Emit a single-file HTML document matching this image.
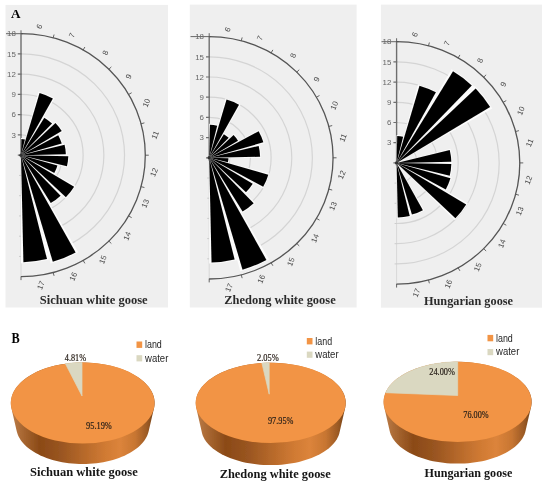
<!DOCTYPE html>
<html><head><meta charset="utf-8"><title>Figure</title>
<style>
html,body{margin:0;padding:0;background:#fff;}
body{width:550px;height:490px;overflow:hidden;}
svg{display:block;font-family:"Liberation Sans",sans-serif;}
.cap{font-family:"Liberation Serif",serif;font-weight:bold;fill:#2c2c2c;}
.pl{font-family:"Liberation Serif",serif;fill:#2a211a;stroke:#2a211a;stroke-width:0.2px;}
.lg{font-family:"Liberation Sans",sans-serif;fill:#262626;}
</style></head><body>
<svg width="550" height="490" viewBox="0 0 550 490">
<defs>
<filter id="soft" x="0" y="0" width="550" height="490" filterUnits="userSpaceOnUse"><feGaussianBlur stdDeviation="0.4"/></filter>
<clipPath id="c1"><rect x="5.5" y="4.9" width="162.5" height="302.6"/></clipPath>
<clipPath id="c2"><rect x="189.8" y="4.6" width="166.8" height="302.9"/></clipPath>
<clipPath id="c3"><rect x="380.9" y="4.6" width="161.1" height="303.1"/></clipPath>
</defs>
<rect width="550" height="490" fill="#fff"/>
<g filter="url(#soft)">
<rect x="5.5" y="4.9" width="162.5" height="302.6" fill="#efefef"/>
<rect x="189.8" y="4.6" width="166.8" height="302.9" fill="#efefef"/>
<rect x="380.9" y="4.6" width="161.1" height="303.1" fill="#efefef"/>

<g clip-path="url(#c1)"><path d="M21.00 134.95A20.72 20.25 0 0 1 21.00 175.45" fill="none" stroke="#d4d4d4" stroke-width="1.2"/>
<path d="M21.00 114.70A41.43 40.50 0 0 1 21.00 195.70" fill="none" stroke="#d4d4d4" stroke-width="1.2"/>
<path d="M21.00 94.45A62.15 60.75 0 0 1 21.00 215.95" fill="none" stroke="#d4d4d4" stroke-width="1.2"/>
<path d="M21.00 74.20A82.86 81.00 0 0 1 21.00 236.20" fill="none" stroke="#d4d4d4" stroke-width="1.2"/>
<path d="M21.00 53.95A103.58 101.25 0 0 1 21.00 256.45" fill="none" stroke="#d4d4d4" stroke-width="1.2"/>
<line x1="21" y1="33.70" x2="21" y2="158.20" stroke="#6e6e6e" stroke-width="1.4"/>
<line x1="21" y1="155.20" x2="21" y2="276.70" stroke="#d0d0d0" stroke-width="0.8"/>
<line x1="17.8" y1="155.20" x2="21.5" y2="155.20" stroke="#6e6e6e" stroke-width="1.2"/>
<line x1="17.8" y1="134.95" x2="21.5" y2="134.95" stroke="#6e6e6e" stroke-width="1.2"/>
<text x="15.8" y="137.65" text-anchor="end" font-size="7.9" fill="#666">3</text>
<line x1="17.8" y1="114.70" x2="21.5" y2="114.70" stroke="#6e6e6e" stroke-width="1.2"/>
<text x="15.8" y="117.40" text-anchor="end" font-size="7.9" fill="#666">6</text>
<line x1="17.8" y1="94.45" x2="21.5" y2="94.45" stroke="#6e6e6e" stroke-width="1.2"/>
<text x="15.8" y="97.15" text-anchor="end" font-size="7.9" fill="#666">9</text>
<line x1="17.8" y1="74.20" x2="21.5" y2="74.20" stroke="#6e6e6e" stroke-width="1.2"/>
<text x="15.8" y="76.90" text-anchor="end" font-size="7.9" fill="#666">12</text>
<line x1="17.8" y1="53.95" x2="21.5" y2="53.95" stroke="#6e6e6e" stroke-width="1.2"/>
<text x="15.8" y="56.65" text-anchor="end" font-size="7.9" fill="#666">15</text>
<line x1="6.0" y1="33.70" x2="23" y2="33.70" stroke="#666" stroke-width="1"/>
<text x="15.8" y="36.40" text-anchor="end" font-size="7.9" fill="#666">18</text>
<line x1="19" y1="175.45" x2="21" y2="175.45" stroke="#c4c4c4" stroke-width="0.8"/>
<line x1="19" y1="195.70" x2="21" y2="195.70" stroke="#c4c4c4" stroke-width="0.8"/>
<line x1="19" y1="215.95" x2="21" y2="215.95" stroke="#c4c4c4" stroke-width="0.8"/>
<line x1="19" y1="236.20" x2="21" y2="236.20" stroke="#c4c4c4" stroke-width="0.8"/>
<line x1="19" y1="256.45" x2="21" y2="256.45" stroke="#c4c4c4" stroke-width="0.8"/>
<path d="M21 155.2L21.00 138.00A17.60 17.20 0 0 1 25.55 138.59Z" fill="#fcfcfc"/>
<path d="M21 155.2L38.42 91.64A67.31 65.80 0 0 1 54.66 98.22Z" fill="#fcfcfc"/>
<path d="M21 155.2L43.95 116.34A45.91 44.88 0 0 1 53.46 123.47Z" fill="#fcfcfc"/>
<path d="M21 155.2L55.41 121.56A48.67 47.57 0 0 1 63.15 131.41Z" fill="#fcfcfc"/>
<path d="M21 155.2L58.66 133.94A43.49 42.51 0 0 1 63.01 144.20Z" fill="#fcfcfc"/>
<path d="M21 155.2L65.34 143.59A45.91 44.88 0 0 1 66.91 155.20Z" fill="#fcfcfc"/>
<path d="M21 155.2L69.32 155.20A48.32 47.24 0 0 1 67.68 167.43Z" fill="#fcfcfc"/>
<path d="M21 155.2L58.67 165.07A39.00 38.12 0 0 1 54.78 174.26Z" fill="#fcfcfc"/>
<path d="M21 155.2L75.71 186.07A63.17 61.75 0 0 1 65.67 198.86Z" fill="#fcfcfc"/>
<path d="M21 155.2L62.25 195.52A58.34 57.03 0 0 1 50.17 204.59Z" fill="#fcfcfc"/>
<path d="M21 155.2L78.31 252.23A114.61 112.04 0 0 1 50.66 263.42Z" fill="#fcfcfc"/>
<path d="M21 155.2L49.59 259.51A110.47 107.99 0 0 1 21.00 263.19Z" fill="#fcfcfc"/>
<path d="M21 155.2L21.36 139.00A16.57 16.20 0 0 1 24.94 139.46Z" fill="#050505"/>
<path d="M21 155.2L39.55 92.99A66.29 64.80 0 0 1 52.88 98.39Z" fill="#050505"/>
<path d="M21 155.2L44.28 117.69A44.88 43.88 0 0 1 52.04 123.51Z" fill="#050505"/>
<path d="M21 155.2L55.42 122.99A47.65 46.57 0 0 1 61.73 131.04Z" fill="#050505"/>
<path d="M21 155.2L58.23 135.23A42.47 41.51 0 0 1 61.77 143.58Z" fill="#050505"/>
<path d="M21 155.2L64.60 144.77A44.88 43.88 0 0 1 65.87 154.24Z" fill="#050505"/>
<path d="M21 155.2L68.29 156.21A47.30 46.24 0 0 1 66.95 166.19Z" fill="#050505"/>
<path d="M21 155.2L57.46 165.59A37.98 37.12 0 0 1 54.30 173.06Z" fill="#050505"/>
<path d="M21 155.2L74.13 186.72A62.15 60.75 0 0 1 65.89 197.21Z" fill="#050505"/>
<path d="M21 155.2L60.63 195.67A57.31 56.03 0 0 1 50.73 203.10Z" fill="#050505"/>
<path d="M21 155.2L75.64 252.55A113.59 111.04 0 0 1 52.79 261.80Z" fill="#050505"/>
<path d="M21 155.2L47.01 259.12A109.45 106.99 0 0 1 23.39 262.16Z" fill="#050505"/>
<circle cx="21" cy="155.2" r="1.7" fill="#333"/>
<path d="M21.00 33.70A124.29 121.5 0 0 1 21.00 276.70" fill="none" stroke="#555" stroke-width="1.3"/>
<line x1="21.00" y1="34.00" x2="21.00" y2="30.30" stroke="#555" stroke-width="0.9"/>
<line x1="53.09" y1="38.13" x2="54.07" y2="34.56" stroke="#555" stroke-width="0.9"/>
<line x1="82.99" y1="50.24" x2="84.89" y2="47.03" stroke="#555" stroke-width="0.9"/>
<line x1="108.67" y1="69.50" x2="111.35" y2="66.88" stroke="#555" stroke-width="0.9"/>
<line x1="128.38" y1="94.60" x2="131.65" y2="92.75" stroke="#555" stroke-width="0.9"/>
<line x1="140.76" y1="123.83" x2="144.42" y2="122.87" stroke="#555" stroke-width="0.9"/>
<line x1="144.99" y1="155.20" x2="148.77" y2="155.20" stroke="#555" stroke-width="0.9"/>
<line x1="140.76" y1="186.57" x2="144.42" y2="187.53" stroke="#555" stroke-width="0.9"/>
<line x1="128.38" y1="215.80" x2="131.65" y2="217.65" stroke="#555" stroke-width="0.9"/>
<line x1="108.67" y1="240.90" x2="111.35" y2="243.52" stroke="#555" stroke-width="0.9"/>
<line x1="82.99" y1="260.16" x2="84.89" y2="263.37" stroke="#555" stroke-width="0.9"/>
<line x1="53.09" y1="272.27" x2="54.07" y2="275.84" stroke="#555" stroke-width="0.9"/>
<line x1="21.00" y1="276.40" x2="21.00" y2="280.10" stroke="#555" stroke-width="0.9"/>
<text transform="translate(39.48 26.66) rotate(-68)" text-anchor="middle" y="2.6" font-size="7.7" fill="#4a4a4a">6</text>
<text transform="translate(71.81 35.28) rotate(-68)" text-anchor="middle" y="2.6" font-size="7.7" fill="#4a4a4a">7</text>
<text transform="translate(105.29 52.72) rotate(-68)" text-anchor="middle" y="2.6" font-size="7.7" fill="#4a4a4a">8</text>
<text transform="translate(128.72 76.43) rotate(-68)" text-anchor="middle" y="2.6" font-size="7.7" fill="#4a4a4a">9</text>
<text transform="translate(146.43 102.90) rotate(-68)" text-anchor="middle" y="2.6" font-size="7.7" fill="#4a4a4a">10</text>
<text transform="translate(155.19 135.13) rotate(-68)" text-anchor="middle" y="2.6" font-size="7.7" fill="#4a4a4a">11</text>
<text transform="translate(153.97 172.31) rotate(-68)" text-anchor="middle" y="2.6" font-size="7.7" fill="#4a4a4a">12</text>
<text transform="translate(145.23 203.53) rotate(-68)" text-anchor="middle" y="2.6" font-size="7.7" fill="#4a4a4a">13</text>
<text transform="translate(127.15 235.98) rotate(-68)" text-anchor="middle" y="2.6" font-size="7.7" fill="#4a4a4a">14</text>
<text transform="translate(102.89 259.53) rotate(-68)" text-anchor="middle" y="2.6" font-size="7.7" fill="#4a4a4a">15</text>
<text transform="translate(73.21 276.61) rotate(-68)" text-anchor="middle" y="2.6" font-size="7.7" fill="#4a4a4a">16</text>
<text transform="translate(40.90 285.35) rotate(-68)" text-anchor="middle" y="2.6" font-size="7.7" fill="#4a4a4a">17</text></g>
<g clip-path="url(#c2)"><path d="M209.20 137.60A20.64 20.20 0 0 1 209.20 178.00" fill="none" stroke="#d4d4d4" stroke-width="1.2"/>
<path d="M209.20 117.40A41.29 40.40 0 0 1 209.20 198.20" fill="none" stroke="#d4d4d4" stroke-width="1.2"/>
<path d="M209.20 97.20A61.93 60.60 0 0 1 209.20 218.40" fill="none" stroke="#d4d4d4" stroke-width="1.2"/>
<path d="M209.20 77.00A82.58 80.80 0 0 1 209.20 238.60" fill="none" stroke="#d4d4d4" stroke-width="1.2"/>
<path d="M209.20 56.80A103.22 101.00 0 0 1 209.20 258.80" fill="none" stroke="#d4d4d4" stroke-width="1.2"/>
<line x1="209.2" y1="36.60" x2="209.2" y2="160.80" stroke="#6e6e6e" stroke-width="1.4"/>
<line x1="209.2" y1="157.80" x2="209.2" y2="279.00" stroke="#d0d0d0" stroke-width="0.8"/>
<line x1="206.0" y1="157.80" x2="209.7" y2="157.80" stroke="#6e6e6e" stroke-width="1.2"/>
<line x1="206.0" y1="137.60" x2="209.7" y2="137.60" stroke="#6e6e6e" stroke-width="1.2"/>
<text x="204.0" y="140.30" text-anchor="end" font-size="7.9" fill="#666">3</text>
<line x1="206.0" y1="117.40" x2="209.7" y2="117.40" stroke="#6e6e6e" stroke-width="1.2"/>
<text x="204.0" y="120.10" text-anchor="end" font-size="7.9" fill="#666">6</text>
<line x1="206.0" y1="97.20" x2="209.7" y2="97.20" stroke="#6e6e6e" stroke-width="1.2"/>
<text x="204.0" y="99.90" text-anchor="end" font-size="7.9" fill="#666">9</text>
<line x1="206.0" y1="77.00" x2="209.7" y2="77.00" stroke="#6e6e6e" stroke-width="1.2"/>
<text x="204.0" y="79.70" text-anchor="end" font-size="7.9" fill="#666">12</text>
<line x1="206.0" y1="56.80" x2="209.7" y2="56.80" stroke="#6e6e6e" stroke-width="1.2"/>
<text x="204.0" y="59.50" text-anchor="end" font-size="7.9" fill="#666">15</text>
<line x1="190.5" y1="36.60" x2="211.2" y2="36.60" stroke="#666" stroke-width="1"/>
<text x="204.0" y="39.30" text-anchor="end" font-size="7.9" fill="#666">18</text>
<line x1="207.2" y1="178.00" x2="209.2" y2="178.00" stroke="#c4c4c4" stroke-width="0.8"/>
<line x1="207.2" y1="198.20" x2="209.2" y2="198.20" stroke="#c4c4c4" stroke-width="0.8"/>
<line x1="207.2" y1="218.40" x2="209.2" y2="218.40" stroke="#c4c4c4" stroke-width="0.8"/>
<line x1="207.2" y1="238.60" x2="209.2" y2="238.60" stroke="#c4c4c4" stroke-width="0.8"/>
<line x1="207.2" y1="258.80" x2="209.2" y2="258.80" stroke="#c4c4c4" stroke-width="0.8"/>
<path d="M209.2 157.8L209.20 123.81A34.74 33.99 0 0 1 218.19 124.96Z" fill="#fcfcfc"/>
<path d="M209.2 157.8L225.49 98.30A62.96 61.60 0 0 1 240.68 104.45Z" fill="#fcfcfc"/>
<path d="M209.2 157.8L223.82 133.03A29.24 28.61 0 0 1 229.87 137.57Z" fill="#fcfcfc"/>
<path d="M209.2 157.8L233.77 133.76A34.74 33.99 0 0 1 239.29 140.80Z" fill="#fcfcfc"/>
<path d="M209.2 157.8L258.95 129.69A57.45 56.21 0 0 1 264.69 143.25Z" fill="#fcfcfc"/>
<path d="M209.2 157.8L259.37 144.65A51.94 50.83 0 0 1 261.14 157.80Z" fill="#fcfcfc"/>
<path d="M209.2 157.8L229.49 157.80A20.29 19.85 0 0 1 228.80 162.94Z" fill="#fcfcfc"/>
<path d="M209.2 157.8L269.68 173.66A62.61 61.26 0 0 1 263.42 188.43Z" fill="#fcfcfc"/>
<path d="M209.2 157.8L254.19 183.21A51.94 50.83 0 0 1 245.93 193.74Z" fill="#fcfcfc"/>
<path d="M209.2 157.8L255.42 203.02A65.36 63.96 0 0 1 241.88 213.19Z" fill="#fcfcfc"/>
<path d="M209.2 157.8L269.24 259.55A120.07 117.49 0 0 1 240.28 271.28Z" fill="#fcfcfc"/>
<path d="M209.2 157.8L237.16 259.90A108.03 105.70 0 0 1 209.20 263.50Z" fill="#fcfcfc"/>
<path d="M209.2 157.8L209.94 124.81A33.72 32.99 0 0 1 217.21 125.75Z" fill="#050505"/>
<path d="M209.2 157.8L226.53 99.62A61.93 60.60 0 0 1 238.99 104.67Z" fill="#050505"/>
<path d="M209.2 157.8L223.84 134.20A28.21 27.61 0 0 1 228.71 137.86Z" fill="#050505"/>
<path d="M209.2 157.8L233.56 134.98A33.72 32.99 0 0 1 238.03 140.68Z" fill="#050505"/>
<path d="M209.2 157.8L258.67 131.24A56.43 55.21 0 0 1 263.37 142.35Z" fill="#050505"/>
<path d="M209.2 157.8L258.66 145.96A50.92 49.83 0 0 1 260.11 156.71Z" fill="#050505"/>
<path d="M209.2 157.8L228.46 158.21A19.27 18.85 0 0 1 227.92 162.28Z" fill="#050505"/>
<path d="M209.2 157.8L268.33 174.66A61.59 60.26 0 0 1 263.20 186.79Z" fill="#050505"/>
<path d="M209.2 157.8L252.73 183.65A50.92 49.83 0 0 1 245.98 192.26Z" fill="#050505"/>
<path d="M209.2 157.8L253.69 203.28A64.34 62.96 0 0 1 242.58 211.62Z" fill="#050505"/>
<path d="M209.2 157.8L266.46 259.93A119.05 116.49 0 0 1 242.51 269.63Z" fill="#050505"/>
<path d="M209.2 157.8L234.63 259.50A107.01 104.70 0 0 1 211.53 262.48Z" fill="#050505"/>
<circle cx="209.2" cy="157.8" r="1.7" fill="#333"/>
<path d="M209.20 36.60A123.87 121.2 0 0 1 209.20 279.00" fill="none" stroke="#555" stroke-width="1.3"/>
<line x1="209.20" y1="36.90" x2="209.20" y2="33.20" stroke="#555" stroke-width="0.9"/>
<line x1="241.18" y1="41.02" x2="242.16" y2="37.45" stroke="#555" stroke-width="0.9"/>
<line x1="270.98" y1="53.10" x2="272.87" y2="49.89" stroke="#555" stroke-width="0.9"/>
<line x1="296.57" y1="72.31" x2="299.24" y2="69.69" stroke="#555" stroke-width="0.9"/>
<line x1="316.21" y1="97.35" x2="319.48" y2="95.50" stroke="#555" stroke-width="0.9"/>
<line x1="328.55" y1="126.51" x2="332.20" y2="125.55" stroke="#555" stroke-width="0.9"/>
<line x1="332.76" y1="157.80" x2="336.54" y2="157.80" stroke="#555" stroke-width="0.9"/>
<line x1="328.55" y1="189.09" x2="332.20" y2="190.05" stroke="#555" stroke-width="0.9"/>
<line x1="316.21" y1="218.25" x2="319.48" y2="220.10" stroke="#555" stroke-width="0.9"/>
<line x1="296.57" y1="243.29" x2="299.24" y2="245.91" stroke="#555" stroke-width="0.9"/>
<line x1="270.98" y1="262.50" x2="272.87" y2="265.71" stroke="#555" stroke-width="0.9"/>
<line x1="241.18" y1="274.58" x2="242.16" y2="278.15" stroke="#555" stroke-width="0.9"/>
<line x1="209.20" y1="278.70" x2="209.20" y2="282.40" stroke="#555" stroke-width="0.9"/>
<text transform="translate(227.62 29.56) rotate(-68)" text-anchor="middle" y="2.6" font-size="7.7" fill="#4a4a4a">6</text>
<text transform="translate(259.85 38.16) rotate(-68)" text-anchor="middle" y="2.6" font-size="7.7" fill="#4a4a4a">7</text>
<text transform="translate(293.22 55.55) rotate(-68)" text-anchor="middle" y="2.6" font-size="7.7" fill="#4a4a4a">8</text>
<text transform="translate(316.57 79.21) rotate(-68)" text-anchor="middle" y="2.6" font-size="7.7" fill="#4a4a4a">9</text>
<text transform="translate(334.23 105.62) rotate(-68)" text-anchor="middle" y="2.6" font-size="7.7" fill="#4a4a4a">10</text>
<text transform="translate(342.96 137.77) rotate(-68)" text-anchor="middle" y="2.6" font-size="7.7" fill="#4a4a4a">11</text>
<text transform="translate(341.73 174.87) rotate(-68)" text-anchor="middle" y="2.6" font-size="7.7" fill="#4a4a4a">12</text>
<text transform="translate(333.02 206.01) rotate(-68)" text-anchor="middle" y="2.6" font-size="7.7" fill="#4a4a4a">13</text>
<text transform="translate(315.01 238.39) rotate(-68)" text-anchor="middle" y="2.6" font-size="7.7" fill="#4a4a4a">14</text>
<text transform="translate(290.83 261.89) rotate(-68)" text-anchor="middle" y="2.6" font-size="7.7" fill="#4a4a4a">15</text>
<text transform="translate(261.24 278.93) rotate(-68)" text-anchor="middle" y="2.6" font-size="7.7" fill="#4a4a4a">16</text>
<text transform="translate(229.03 287.66) rotate(-68)" text-anchor="middle" y="2.6" font-size="7.7" fill="#4a4a4a">17</text></g>
<g clip-path="url(#c3)"><path d="M396.60 142.70A20.52 20.20 0 0 1 396.60 183.10" fill="none" stroke="#d4d4d4" stroke-width="1.2"/>
<path d="M396.60 122.50A41.05 40.40 0 0 1 396.60 203.30" fill="none" stroke="#d4d4d4" stroke-width="1.2"/>
<path d="M396.60 102.30A61.57 60.60 0 0 1 396.60 223.50" fill="none" stroke="#d4d4d4" stroke-width="1.2"/>
<path d="M396.60 82.10A82.09 80.80 0 0 1 396.60 243.70" fill="none" stroke="#d4d4d4" stroke-width="1.2"/>
<path d="M396.60 61.90A102.62 101.00 0 0 1 396.60 263.90" fill="none" stroke="#d4d4d4" stroke-width="1.2"/>
<line x1="396.6" y1="41.65" x2="396.6" y2="165.90" stroke="#6e6e6e" stroke-width="1.4"/>
<line x1="396.6" y1="162.90" x2="396.6" y2="284.15" stroke="#d0d0d0" stroke-width="0.8"/>
<line x1="393.40000000000003" y1="162.90" x2="397.1" y2="162.90" stroke="#6e6e6e" stroke-width="1.2"/>
<line x1="393.40000000000003" y1="142.70" x2="397.1" y2="142.70" stroke="#6e6e6e" stroke-width="1.2"/>
<text x="391.40000000000003" y="145.40" text-anchor="end" font-size="7.9" fill="#666">3</text>
<line x1="393.40000000000003" y1="122.50" x2="397.1" y2="122.50" stroke="#6e6e6e" stroke-width="1.2"/>
<text x="391.40000000000003" y="125.20" text-anchor="end" font-size="7.9" fill="#666">6</text>
<line x1="393.40000000000003" y1="102.30" x2="397.1" y2="102.30" stroke="#6e6e6e" stroke-width="1.2"/>
<text x="391.40000000000003" y="105.00" text-anchor="end" font-size="7.9" fill="#666">9</text>
<line x1="393.40000000000003" y1="82.10" x2="397.1" y2="82.10" stroke="#6e6e6e" stroke-width="1.2"/>
<text x="391.40000000000003" y="84.80" text-anchor="end" font-size="7.9" fill="#666">12</text>
<line x1="393.40000000000003" y1="61.90" x2="397.1" y2="61.90" stroke="#6e6e6e" stroke-width="1.2"/>
<text x="391.40000000000003" y="64.60" text-anchor="end" font-size="7.9" fill="#666">15</text>
<line x1="381.5" y1="41.70" x2="398.6" y2="41.70" stroke="#666" stroke-width="1"/>
<text x="391.40000000000003" y="44.40" text-anchor="end" font-size="7.9" fill="#666">18</text>
<line x1="394.6" y1="183.10" x2="396.6" y2="183.10" stroke="#c4c4c4" stroke-width="0.8"/>
<line x1="394.6" y1="203.30" x2="396.6" y2="203.30" stroke="#c4c4c4" stroke-width="0.8"/>
<line x1="394.6" y1="223.50" x2="396.6" y2="223.50" stroke="#c4c4c4" stroke-width="0.8"/>
<line x1="394.6" y1="243.70" x2="396.6" y2="243.70" stroke="#c4c4c4" stroke-width="0.8"/>
<line x1="394.6" y1="263.90" x2="396.6" y2="263.90" stroke="#c4c4c4" stroke-width="0.8"/>
<path d="M396.6 162.9L396.60 134.97A28.38 27.93 0 0 1 403.95 135.92Z" fill="#fcfcfc"/>
<path d="M396.6 162.9L418.02 84.21A82.77 81.46 0 0 1 437.98 92.35Z" fill="#fcfcfc"/>
<path d="M396.6 162.9L451.49 69.32A109.79 108.06 0 0 1 474.23 86.49Z" fill="#fcfcfc"/>
<path d="M396.6 162.9L474.72 86.01A110.47 108.73 0 0 1 492.27 108.53Z" fill="#fcfcfc"/>
<path d="M396.6 162.9L450.45 148.70A55.74 54.87 0 0 1 452.34 162.90Z" fill="#fcfcfc"/>
<path d="M396.6 162.9L452.34 162.90A55.74 54.87 0 0 1 450.45 177.10Z" fill="#fcfcfc"/>
<path d="M396.6 162.9L451.77 177.45A57.11 56.21 0 0 1 446.06 191.01Z" fill="#fcfcfc"/>
<path d="M396.6 162.9L467.98 203.46A82.42 81.13 0 0 1 454.88 220.27Z" fill="#fcfcfc"/>
<path d="M396.6 162.9L424.47 210.42A55.74 54.87 0 0 1 411.03 215.90Z" fill="#fcfcfc"/>
<path d="M396.6 162.9L411.20 216.55A56.43 55.54 0 0 1 396.60 218.44Z" fill="#fcfcfc"/>
<path d="M396.6 162.9L397.20 135.97A27.36 26.93 0 0 1 403.10 136.74Z" fill="#050505"/>
<path d="M396.6 162.9L419.48 85.65A81.75 80.46 0 0 1 435.92 92.36Z" fill="#050505"/>
<path d="M396.6 162.9L453.03 71.37A108.77 107.06 0 0 1 471.82 85.56Z" fill="#050505"/>
<path d="M396.6 162.9L475.67 88.40A109.46 107.73 0 0 1 490.18 107.01Z" fill="#050505"/>
<path d="M396.6 162.9L449.76 150.10A54.73 53.87 0 0 1 451.32 161.72Z" fill="#050505"/>
<path d="M396.6 162.9L451.32 164.08A54.73 53.87 0 0 1 449.76 175.70Z" fill="#050505"/>
<path d="M396.6 162.9L450.46 178.35A56.10 55.21 0 0 1 445.78 189.46Z" fill="#050505"/>
<path d="M396.6 162.9L466.20 204.47A81.41 80.13 0 0 1 455.41 218.31Z" fill="#050505"/>
<path d="M396.6 162.9L422.92 210.13A54.73 53.87 0 0 1 411.91 214.61Z" fill="#050505"/>
<path d="M396.6 162.9L409.77 215.88A55.41 54.54 0 0 1 397.81 217.43Z" fill="#050505"/>
<circle cx="396.6" cy="162.9" r="1.7" fill="#333"/>
<path d="M396.60 41.65A123.19 121.25 0 0 1 396.60 284.15" fill="none" stroke="#555" stroke-width="1.3"/>
<line x1="396.60" y1="41.95" x2="396.60" y2="38.25" stroke="#555" stroke-width="0.9"/>
<line x1="428.41" y1="46.07" x2="429.38" y2="42.50" stroke="#555" stroke-width="0.9"/>
<line x1="458.04" y1="58.15" x2="459.92" y2="54.95" stroke="#555" stroke-width="0.9"/>
<line x1="483.49" y1="77.38" x2="486.15" y2="74.76" stroke="#555" stroke-width="0.9"/>
<line x1="503.02" y1="102.42" x2="506.28" y2="100.57" stroke="#555" stroke-width="0.9"/>
<line x1="515.30" y1="131.60" x2="518.93" y2="130.64" stroke="#555" stroke-width="0.9"/>
<line x1="519.49" y1="162.90" x2="523.24" y2="162.90" stroke="#555" stroke-width="0.9"/>
<line x1="515.30" y1="194.20" x2="518.93" y2="195.16" stroke="#555" stroke-width="0.9"/>
<line x1="503.02" y1="223.37" x2="506.28" y2="225.22" stroke="#555" stroke-width="0.9"/>
<line x1="483.49" y1="248.42" x2="486.15" y2="251.04" stroke="#555" stroke-width="0.9"/>
<line x1="458.04" y1="267.65" x2="459.92" y2="270.85" stroke="#555" stroke-width="0.9"/>
<line x1="428.41" y1="279.73" x2="429.38" y2="283.30" stroke="#555" stroke-width="0.9"/>
<line x1="396.60" y1="283.85" x2="396.60" y2="287.55" stroke="#555" stroke-width="0.9"/>
<text transform="translate(414.92 34.61) rotate(-68)" text-anchor="middle" y="2.6" font-size="7.7" fill="#4a4a4a">6</text>
<text transform="translate(446.97 43.21) rotate(-68)" text-anchor="middle" y="2.6" font-size="7.7" fill="#4a4a4a">7</text>
<text transform="translate(480.16 60.61) rotate(-68)" text-anchor="middle" y="2.6" font-size="7.7" fill="#4a4a4a">8</text>
<text transform="translate(503.38 84.28) rotate(-68)" text-anchor="middle" y="2.6" font-size="7.7" fill="#4a4a4a">9</text>
<text transform="translate(520.94 110.70) rotate(-68)" text-anchor="middle" y="2.6" font-size="7.7" fill="#4a4a4a">10</text>
<text transform="translate(529.62 142.87) rotate(-68)" text-anchor="middle" y="2.6" font-size="7.7" fill="#4a4a4a">11</text>
<text transform="translate(528.41 179.98) rotate(-68)" text-anchor="middle" y="2.6" font-size="7.7" fill="#4a4a4a">12</text>
<text transform="translate(519.74 211.13) rotate(-68)" text-anchor="middle" y="2.6" font-size="7.7" fill="#4a4a4a">13</text>
<text transform="translate(501.82 243.52) rotate(-68)" text-anchor="middle" y="2.6" font-size="7.7" fill="#4a4a4a">14</text>
<text transform="translate(477.78 267.03) rotate(-68)" text-anchor="middle" y="2.6" font-size="7.7" fill="#4a4a4a">15</text>
<text transform="translate(448.35 284.08) rotate(-68)" text-anchor="middle" y="2.6" font-size="7.7" fill="#4a4a4a">16</text>
<text transform="translate(416.33 292.81) rotate(-68)" text-anchor="middle" y="2.6" font-size="7.7" fill="#4a4a4a">17</text></g>
<text class="cap" x="11" y="17.8" font-size="13.2" fill="#000" style="fill:#000">A</text>
<text class="cap" x="11.4" y="343.1" font-size="13.6" style="fill:#000" textLength="8.2" lengthAdjust="spacingAndGlyphs">B</text>
<text class="cap" x="39.8" y="304.3" font-size="12" textLength="107.9" lengthAdjust="spacingAndGlyphs">Sichuan white goose</text>
<text class="cap" x="224.3" y="304.0" font-size="12" textLength="111.4" lengthAdjust="spacingAndGlyphs">Zhedong white goose</text>
<text class="cap" x="424" y="305.0" font-size="12" textLength="89" lengthAdjust="spacingAndGlyphs">Hungarian goose</text>
<defs><linearGradient id="sga" gradientUnits="userSpaceOnUse" x1="10.799999999999997" y1="0" x2="154.60000000000002" y2="0"><stop offset="0.0" stop-color="#bd7d48"/>
<stop offset="0.10" stop-color="#a4632e"/>
<stop offset="0.20" stop-color="#8b4a17"/>
<stop offset="0.34" stop-color="#985420"/>
<stop offset="0.50" stop-color="#b5682a"/>
<stop offset="0.655" stop-color="#d07a33"/>
<stop offset="0.76" stop-color="#dc843b"/>
<stop offset="0.865" stop-color="#c87632"/>
<stop offset="0.95" stop-color="#9a5924"/>
<stop offset="1" stop-color="#6f3d14"/>
</linearGradient></defs>
<path d="M10.80 403.05L10.90 400.93L11.19 398.81L11.69 396.71L12.37 394.62L13.25 392.55L14.32 390.52L15.58 388.52L17.02 386.56L18.64 384.64L20.43 382.77L22.40 380.96L24.53 379.22L26.82 377.53L29.27 375.92L31.86 374.38L34.59 372.92L37.45 371.54L40.44 370.24L43.54 369.04L46.75 367.93L50.06 366.92L53.46 366.01L56.93 365.19L60.48 364.48L64.09 363.88L67.75 363.39L71.45 363.00L75.18 362.72L78.94 362.56L82.70 362.50L86.46 362.56L90.22 362.72L93.95 363.00L97.65 363.39L101.31 363.88L104.92 364.48L108.47 365.19L111.94 366.01L115.34 366.92L118.65 367.93L121.86 369.04L124.96 370.24L127.95 371.54L130.81 372.92L133.54 374.38L136.13 375.92L138.58 377.53L140.87 379.22L143.00 380.96L144.97 382.77L146.76 384.64L148.38 386.56L149.82 388.52L151.08 390.52L152.15 392.55L153.03 394.62L153.71 396.71L154.21 398.81L154.50 400.93L154.60 403.05L154.50 405.17L154.21 407.29L148.84 430.41L148.39 432.36L147.75 434.29L146.94 436.20L145.95 438.08L144.79 439.93L143.46 441.75L141.96 443.52L140.30 445.25L138.48 446.92L136.51 448.54L134.39 450.10L132.12 451.59L129.73 453.01L127.20 454.37L124.55 455.64L121.79 456.84L118.92 457.95L115.95 458.97L112.89 459.91L109.75 460.76L106.53 461.51L103.25 462.16L99.91 462.72L96.53 463.18L93.10 463.54L89.65 463.79L86.18 463.95L82.70 464.00L79.22 463.95L75.75 463.79L72.30 463.54L68.87 463.18L65.49 462.72L62.15 462.16L58.87 461.51L55.65 460.76L52.51 459.91L49.45 458.97L46.48 457.95L43.61 456.84L40.85 455.64L38.20 454.37L35.67 453.01L33.28 451.59L31.01 450.10L28.89 448.54L26.92 446.92L25.10 445.25L23.44 443.52L21.94 441.75L20.61 439.93L19.45 438.08L18.46 436.20L17.65 434.29L17.01 432.36L16.56 430.41L11.19 407.29L10.90 405.17Z" fill="url(#sga)"/>
<ellipse cx="82.7" cy="403.05" rx="71.9" ry="40.55" fill="#f29444"/>
<path d="M82.00 396.00L82.00 362.50A71.9 40.55 0 0 0 65.40 363.69Z" fill="#dad8c1" stroke="#dad8c1" stroke-width="0.7"/>
<defs><linearGradient id="sgb" gradientUnits="userSpaceOnUse" x1="195.7" y1="0" x2="345.7" y2="0"><stop offset="0.0" stop-color="#bd7d48"/>
<stop offset="0.10" stop-color="#a4632e"/>
<stop offset="0.20" stop-color="#8b4a17"/>
<stop offset="0.34" stop-color="#985420"/>
<stop offset="0.50" stop-color="#b5682a"/>
<stop offset="0.655" stop-color="#d07a33"/>
<stop offset="0.76" stop-color="#dc843b"/>
<stop offset="0.865" stop-color="#c87632"/>
<stop offset="0.95" stop-color="#9a5924"/>
<stop offset="1" stop-color="#6f3d14"/>
</linearGradient></defs>
<path d="M195.70 402.95L195.80 400.85L196.11 398.75L196.62 396.67L197.34 394.60L198.26 392.56L199.37 390.54L200.68 388.56L202.18 386.62L203.87 384.72L205.75 382.88L207.80 381.08L210.02 379.35L212.41 377.68L214.96 376.08L217.67 374.56L220.52 373.11L223.50 371.75L226.62 370.47L229.85 369.28L233.20 368.18L236.65 367.18L240.19 366.27L243.82 365.47L247.52 364.77L251.29 364.17L255.11 363.68L258.97 363.29L262.86 363.02L266.77 362.86L270.70 362.80L274.63 362.86L278.54 363.02L282.43 363.29L286.29 363.68L290.11 364.17L293.88 364.77L297.58 365.47L301.21 366.27L304.75 367.18L308.20 368.18L311.55 369.28L314.78 370.47L317.90 371.75L320.88 373.11L323.73 374.56L326.44 376.08L328.99 377.68L331.38 379.35L333.60 381.08L335.65 382.88L337.53 384.72L339.22 386.62L340.72 388.56L342.03 390.54L343.14 392.56L344.06 394.60L344.78 396.67L345.29 398.75L345.60 400.85L345.70 402.95L345.60 405.05L345.29 407.15L339.69 431.84L339.22 433.77L338.56 435.68L337.71 437.57L336.68 439.44L335.47 441.27L334.08 443.07L332.51 444.82L330.78 446.53L328.88 448.19L326.83 449.79L324.61 451.33L322.26 452.81L319.76 454.22L317.12 455.56L314.36 456.82L311.48 458.01L308.48 459.11L305.39 460.12L302.20 461.05L298.92 461.89L295.56 462.63L292.14 463.28L288.66 463.83L285.12 464.29L281.55 464.64L277.95 464.90L274.33 465.05L270.70 465.10L267.07 465.05L263.45 464.90L259.85 464.64L256.28 464.29L252.74 463.83L249.26 463.28L245.84 462.63L242.48 461.89L239.20 461.05L236.01 460.12L232.92 459.11L229.92 458.01L227.04 456.82L224.28 455.56L221.64 454.22L219.14 452.81L216.79 451.33L214.57 449.79L212.52 448.19L210.62 446.53L208.89 444.82L207.32 443.07L205.93 441.27L204.72 439.44L203.69 437.57L202.84 435.68L202.18 433.77L201.71 431.84L196.11 407.15L195.80 405.05Z" fill="url(#sgb)"/>
<ellipse cx="270.7" cy="402.95" rx="75" ry="40.15" fill="#f29444"/>
<path d="M269.20 394.20L269.20 362.80A75 40.15 0 0 0 261.90 363.08Z" fill="#dad8c1" stroke="#dad8c1" stroke-width="0.7"/>
<defs><linearGradient id="sgc" gradientUnits="userSpaceOnUse" x1="383.6" y1="0" x2="531.6" y2="0"><stop offset="0.0" stop-color="#bd7d48"/>
<stop offset="0.10" stop-color="#a4632e"/>
<stop offset="0.20" stop-color="#8b4a17"/>
<stop offset="0.34" stop-color="#985420"/>
<stop offset="0.50" stop-color="#b5682a"/>
<stop offset="0.655" stop-color="#d07a33"/>
<stop offset="0.76" stop-color="#dc843b"/>
<stop offset="0.865" stop-color="#c87632"/>
<stop offset="0.95" stop-color="#9a5924"/>
<stop offset="1" stop-color="#6f3d14"/>
</linearGradient></defs>
<path d="M383.60 401.95L383.70 399.85L384.01 397.75L384.51 395.67L385.22 393.60L386.12 391.56L387.22 389.54L388.52 387.56L390.00 385.62L391.67 383.72L393.51 381.88L395.54 380.08L397.73 378.35L400.09 376.68L402.61 375.08L405.27 373.56L408.08 372.11L411.03 370.75L414.10 369.47L417.30 368.28L420.60 367.18L424.00 366.18L427.50 365.27L431.08 364.47L434.73 363.77L438.45 363.17L442.21 362.68L446.02 362.29L449.86 362.02L453.73 361.86L457.60 361.80L461.47 361.86L465.34 362.02L469.18 362.29L472.99 362.68L476.75 363.17L480.47 363.77L484.12 364.47L487.70 365.27L491.20 366.18L494.60 367.18L497.90 368.28L501.10 369.47L504.17 370.75L507.12 372.11L509.93 373.56L512.59 375.08L515.11 376.68L517.47 378.35L519.66 380.08L521.69 381.88L523.53 383.72L525.20 385.62L526.68 387.56L527.98 389.54L529.08 391.56L529.98 393.60L530.69 395.67L531.19 397.75L531.50 399.85L531.60 401.95L531.50 404.05L531.19 406.15L525.68 430.34L525.21 432.27L524.55 434.18L523.72 436.07L522.70 437.94L521.50 439.77L520.13 441.57L518.59 443.32L516.88 445.03L515.01 446.69L512.98 448.29L510.80 449.83L508.47 451.31L506.00 452.72L503.40 454.06L500.68 455.32L497.83 456.51L494.88 457.61L491.83 458.62L488.68 459.55L485.44 460.39L482.13 461.13L478.75 461.78L475.32 462.33L471.83 462.79L468.31 463.14L464.75 463.40L461.18 463.55L457.60 463.60L454.02 463.55L450.45 463.40L446.89 463.14L443.37 462.79L439.88 462.33L436.45 461.78L433.07 461.13L429.76 460.39L426.52 459.55L423.38 458.62L420.32 457.61L417.37 456.51L414.52 455.32L411.80 454.06L409.20 452.72L406.73 451.31L404.40 449.83L402.22 448.29L400.19 446.69L398.32 445.03L396.61 443.32L395.07 441.57L393.70 439.77L392.50 437.94L391.48 436.07L390.65 434.18L389.99 432.27L389.52 430.34L384.01 406.15L383.70 404.05Z" fill="url(#sgc)"/>
<ellipse cx="457.6" cy="401.95" rx="74" ry="40.15" fill="#f29444"/>
<path d="M457.70 395.50L457.70 361.80A74 40.15 0 0 0 385.60 392.68Z" fill="#dad8c1" stroke="#dad8c1" stroke-width="0.7"/>
<rect x="136.5" y="341.5" width="5.7" height="6.4" fill="#f29444"/>
<rect x="136.5" y="355.2" width="5.7" height="6.2" fill="#dad8c1"/>
<text class="lg" x="145.0" y="348.1" font-size="10.6" textLength="16.8" lengthAdjust="spacingAndGlyphs">land</text>
<text class="lg" x="145.0" y="361.6" font-size="10.6" textLength="23.3" lengthAdjust="spacingAndGlyphs">water</text>
<rect x="306.8" y="338.0" width="5.7" height="6.4" fill="#f29444"/>
<rect x="306.8" y="351.6" width="5.7" height="6.2" fill="#dad8c1"/>
<text class="lg" x="315.3" y="344.6" font-size="10.6" textLength="16.8" lengthAdjust="spacingAndGlyphs">land</text>
<text class="lg" x="315.3" y="358.0" font-size="10.6" textLength="23.3" lengthAdjust="spacingAndGlyphs">water</text>
<rect x="487.5" y="334.9" width="5.7" height="6.4" fill="#f29444"/>
<rect x="487.5" y="349.0" width="5.7" height="6.2" fill="#dad8c1"/>
<text class="lg" x="496.0" y="341.5" font-size="10.6" textLength="16.8" lengthAdjust="spacingAndGlyphs">land</text>
<text class="lg" x="496.0" y="355.4" font-size="10.6" textLength="23.3" lengthAdjust="spacingAndGlyphs">water</text>
<text class="pl" x="64.8" y="360.8" font-size="10" textLength="21.3" lengthAdjust="spacingAndGlyphs">4.81%</text>
<text class="pl" x="86.1" y="429.4" font-size="10" textLength="25.7" lengthAdjust="spacingAndGlyphs">95.19%</text>
<text class="pl" x="257" y="361.0" font-size="10" textLength="21.8" lengthAdjust="spacingAndGlyphs">2.05%</text>
<text class="pl" x="268" y="424.3" font-size="10" textLength="25.4" lengthAdjust="spacingAndGlyphs">97.95%</text>
<text class="pl" x="429.3" y="374.6" font-size="10" textLength="25.5" lengthAdjust="spacingAndGlyphs">24.00%</text>
<text class="pl" x="463.3" y="418.4" font-size="10" textLength="25.3" lengthAdjust="spacingAndGlyphs">76.00%</text>
<text class="cap" style="fill:#141414" x="30.1" y="476.1" font-size="12" textLength="107.7" lengthAdjust="spacingAndGlyphs">Sichuan white goose</text>
<text class="cap" style="fill:#141414" x="219.7" y="477.6" font-size="12" textLength="111" lengthAdjust="spacingAndGlyphs">Zhedong white goose</text>
<text class="cap" style="fill:#141414" x="424.5" y="476.8" font-size="12" textLength="87.8" lengthAdjust="spacingAndGlyphs">Hungarian goose</text>
</g></svg></body></html>
